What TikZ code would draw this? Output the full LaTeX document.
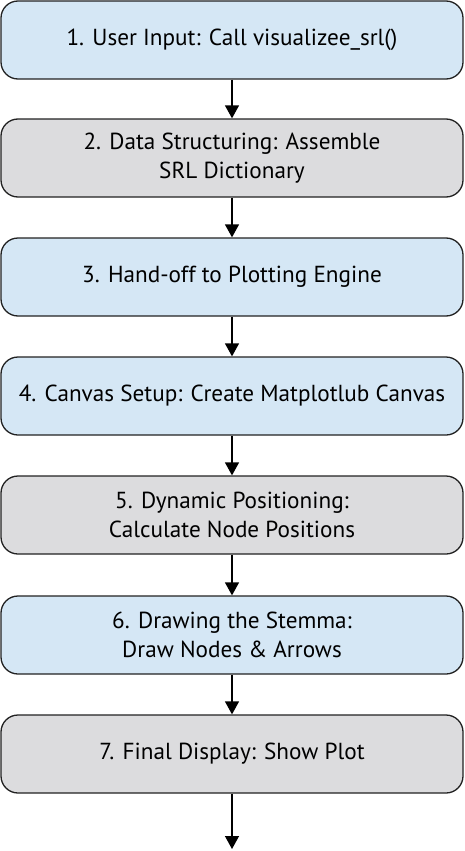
\documentclass[tikz,border=0pt]{standalone}
\usepackage{fontspec}
\setmainfont{PT Sans}
\usetikzlibrary{arrows.meta}

\definecolor{stepblue}{HTML}{D5E7F5}
\definecolor{stepgray}{HTML}{DCDCDE}
\definecolor{stepline}{HTML}{222222}

\tikzset{
  stepbox/.style={draw=stepline,line width=1.3pt,rounded corners=17pt,
    minimum width=462pt,minimum height=78pt,align=center,
    font=\fontsize{23.2}{29}\selectfont},
  bluebox/.style={stepbox,fill=stepblue},
  graybox/.style={stepbox,fill=stepgray}
}

\begin{document}
\begin{tikzpicture}[x=1pt,y=-1pt]
        \useasboundingbox (0,0) rectangle (464,851);

        \node[bluebox] (1) at (232,40)  {1. User Input: Call visualizee\_srl()};
        \node[graybox] (2) at (232,158) {2. Data Structuring: Assemble\\SRL Dictionary};
        \node[bluebox] (3) at (232,277) {3. Hand-off to Plotting Engine};
        \node[bluebox] (4) at (232,396) {4. Canvas Setup: Create Matplotlub Canvas};
        \node[graybox] (5) at (232,515) {5. Dynamic Positioning:\\Calculate Node Positions};
        \node[bluebox] (6) at (232,635) {6. Drawing the Stemma:\\Draw Nodes \& Arrows};
        \node[graybox] (7) at (232,754) {7. Final Display: Show Plot};
        \coordinate (end) at (232,849);

        \begin{scope}[every edge/.style={draw=black,line width=1.3pt,
            -{Triangle[width=14pt,length=13pt]}}]
          \path (1) edge (2);
          \path (2) edge (3);
          \path (3) edge (4);
          \path (4) edge (5);
          \path (5) edge (6);
          \path (6) edge (7);
          \path (7) edge (end);
        \end{scope}

      \end{tikzpicture}
\end{document}
